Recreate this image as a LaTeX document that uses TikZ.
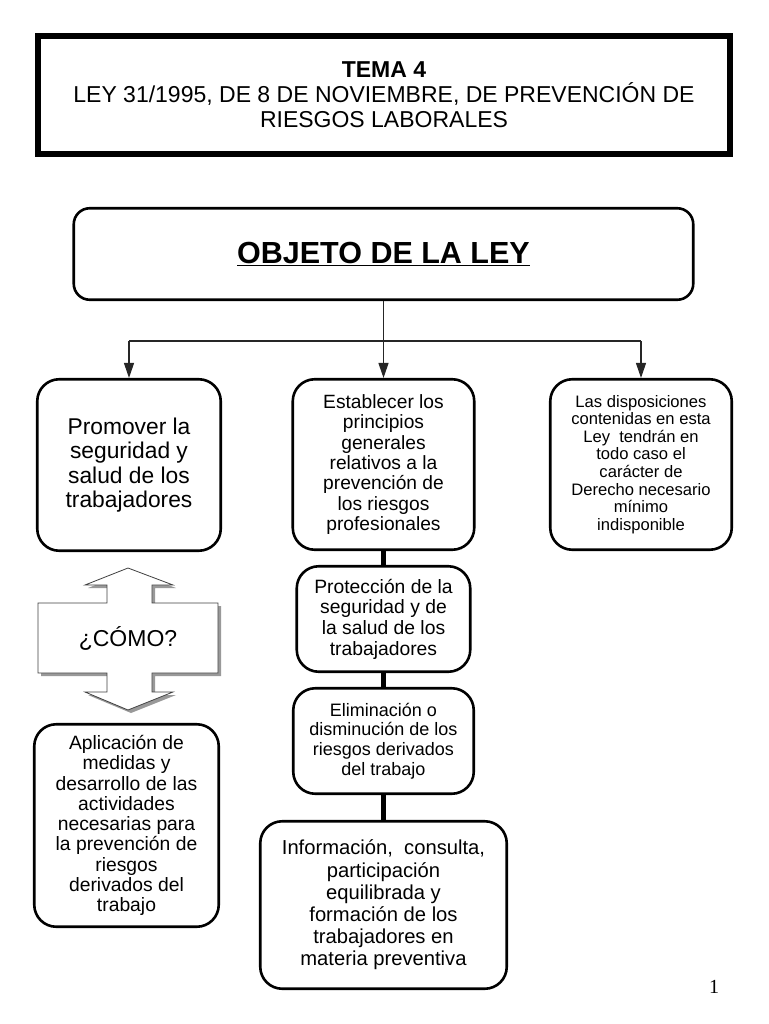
\documentclass[tikz,border=0pt]{standalone}
\usepackage{fontspec}
\setmainfont{Liberation Sans}
\newfontfamily\pagefont{Liberation Serif}
\usetikzlibrary{arrows.meta}
\tikzset{
  rbox/.style={draw, line width=2.6pt, rounded corners=22pt, align=center, inner sep=0pt, fill=white},
  thin conn/.style={line width=1.2pt, draw=black!85},
  arrowconn/.style={thin conn, -{Triangle[length=15pt,width=10pt]}},
  thick conn/.style={line width=5pt},
  fs/.style n args={2}{font=\fontsize{#1}{#2}\selectfont}
}
\begin{document}
\begin{tikzpicture}[x=1pt,y=-1pt]
\useasboundingbox (0,0) rectangle (768,1024);
% header
\node[draw, line width=6pt, minimum width=692pt, minimum height=118pt, align=center, inner sep=0pt, fs={23}{25}] (header) at (384,95)
  {{\bfseries TEMA 4}\\LEY 31/1995, DE 8 DE NOVIEMBRE, DE PREVENCIÓN DE\\RIESGOS LABORALES};
% objeto
\node[rbox, rounded corners=16pt, minimum width=619.5pt, minimum height=91.5pt, font=\fontsize{30.5}{34}\selectfont\bfseries] (objeto) at (383.5,254)
  {\underline{OBJETO DE LA LEY}};
% first row
\node[rbox, minimum width=183.5pt, minimum height=171.5pt, fs={22.8}{24.3}] (promover) at (129,465)
  {Promover la\\seguridad y\\salud de los\\trabajadores};
\node[rbox, minimum width=181.5pt, minimum height=170.5pt, fs={19.2}{20.4}] (establecer) at (383.5,464.5)
  {Establecer los\\principios\\generales\\relativos a la\\prevención de\\los riesgos\\profesionales};
\node[rbox, minimum width=181.5pt, minimum height=170.5pt, fs={16.6}{17.6}] (disposiciones) at (641,464.5)
  {Las disposiciones\\contenidas en esta\\Ley\ \ tendrán en\\todo caso el\\carácter de\\Derecho necesario\\mínimo\\indisponible};
% middle column
\node[rbox, minimum width=173.5pt, minimum height=105.5pt, fs={19.3}{20.6}] (proteccion) at (383.5,619)
  {Protección de la\\seguridad y de\\la salud de los\\trabajadores};
\node[rbox, minimum width=180.5pt, minimum height=105.5pt, fs={18}{19.8}] (eliminacion) at (383.5,741)
  {Eliminación o\\disminución de los\\riesgos derivados\\del trabajo};
\node[rbox, minimum width=246.5pt, minimum height=167.5pt, fs={20.2}{22.2}] (informacion) at (383.5,905)
  {Información,\ \ consulta,\\participación\\equilibrada y\\formación de los\\trabajadores en\\materia preventiva};
% bottom left
\node[rbox, minimum width=184.5pt, minimum height=202.5pt, fs={19.3}{20.3}] (aplicacion) at (126.5,825.5)
  {Aplicación de\\medidas y\\desarrollo de las\\actividades\\necesarias para\\la prevención de\\riesgos\\derivados del\\trabajo};
% double arrow
\def\dblarrow{(128,568) -- (173,585) -- (152,585) -- (152,603) -- (218,603) -- (218,673) -- (152,673) -- (152,692) -- (173,692) -- (128,710) -- (85,692) -- (107,692) -- (107,673) -- (38,673) -- (38,603) -- (107,603) -- (107,585) -- (85,585) -- cycle}
\begin{scope}[shift={(3,3)}]
\fill[black!40] \dblarrow;
\end{scope}
\filldraw[fill=white, draw=black!75, line width=0.8pt] \dblarrow;
\node[fs={23}{25}] (como) at (128,638) {¿CÓMO?};
% connectors
\coordinate (jl) at (129,341);
\coordinate (jr) at (641,341);
\draw[arrowconn] (objeto.south) -- (establecer.north);
\draw[thin conn] (jl) -- (jr);
\draw[arrowconn] (jl) -- (promover.north);
\draw[arrowconn] (jr) -- (disposiciones.north);
\draw[thick conn] (establecer.south) -- (proteccion.north);
\draw[thick conn] (proteccion.south) -- (eliminacion.north);
\draw[thick conn] (eliminacion.south) -- (informacion.north);
% page number
\node[font=\pagefont\fontsize{20}{22}\selectfont] (pagenum) at (714,987) {1};
\end{tikzpicture}
\end{document}
